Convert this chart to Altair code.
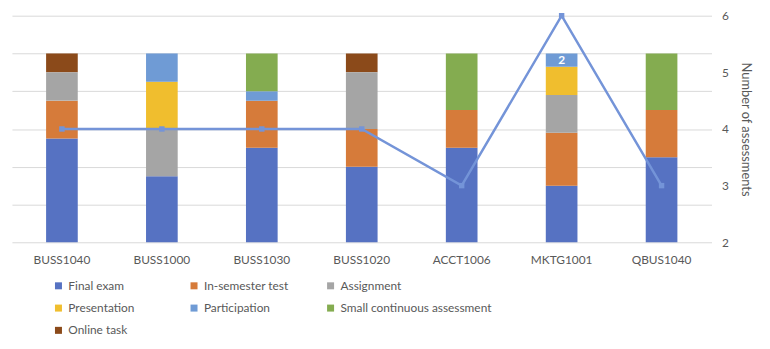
import altair as alt
import pandas as pd

units = ["BUSS1040", "BUSS1000", "BUSS1030", "BUSS1020", "ACCT1006", "MKTG1001", "QBUS1040"]
types = ["Final exam", "In-semester test", "Assignment", "Presentation",
         "Participation", "Small continuous assessment", "Online task"]
type_colors = ["#5672C2", "#D67B3A", "#A5A5A5", "#F0BE2E", "#6F9BD5", "#84AC50", "#8B4A1A"]
# legend columns (as in the reference, filled row by row)
legend_groups = [["Final exam", "Presentation", "Online task"],
                 ["In-semester test", "Participation"],
                 ["Assignment", "Small continuous assessment"]]

final_exam = [55, 35, 50, 40, 50, 30, 45]
in_semester_test = [20, 0, 25, 20, 20, 28, 25]
assignment = [15, 25, 0, 30, 0, 20, 0]
presentation = [0, 25, 0, 0, 0, 15, 0]
participation = [0, 15, 5, 0, 0, 7, 0]
small_continuous = [0, 0, 20, 0, 30, 0, 30]
online_task = [10, 0, 0, 10, 0, 0, 0]
num_assessments = [4, 4, 4, 4, 3, 6, 3]
participation_labels = ["", "", "", "", "", "2", ""]

series = [final_exam, in_semester_test, assignment, presentation,
          participation, small_continuous, online_task]

rows = []
for ui, u in enumerate(units):
    cum = 0
    for ti, t in enumerate(types):
        v = series[ti][ui]
        if v > 0:
            lab = participation_labels[ui] if t == "Participation" else ""
            rows.append({"unit": u, "type": t, "order": ti, "start": cum, "end": cum + v,
                         "mid": cum + v / 2, "label": lab})
            cum += v
df = pd.DataFrame(rows)
line_df = pd.DataFrame({"unit": units, "n": num_assessments})
label_df = df[df["label"] != ""]

color_of = dict(zip(types, type_colors))
legend_x = [41, 178, 316]

xaxis = alt.Axis(labelAngle=0, ticks=False, domain=False, labelPadding=12,
                 labelFontSize=12, labelColor="#595959", grid=False)
xscale = alt.Scale(domain=units, paddingInner=0, paddingOuter=0)

layers = []
for gi, group in enumerate(legend_groups):
    sub = df[df["type"].isin(group)]
    if gi == 0:
        yaxis = alt.Axis(values=[0, 20, 40, 60, 80, 100, 120], labels=False, ticks=False,
                         domain=False, title=None, gridColor="#d9d9d9")
    else:
        yaxis = None
    layers.append(
        alt.Chart(sub).mark_bar(size=32).encode(
            x=alt.X("unit:N", sort=units, title=None, scale=xscale, axis=xaxis),
            y=alt.Y("start:Q", scale=alt.Scale(domain=[0, 120]), axis=yaxis),
            y2="end:Q",
            color=alt.Color("type:N",
                            scale=alt.Scale(domain=group, range=[color_of[t] for t in group]),
                            legend=alt.Legend(orient="none", direction="vertical",
                                              legendX=legend_x[gi], legendY=267,
                                              symbolType="square", title=None,
                                              labelFontSize=12, labelColor="#595959",
                                              symbolSize=50, symbolStrokeWidth=0,
                                              rowPadding=10.5, labelOffset=4)),
        )
    )

text = alt.Chart(label_df).mark_text(color="white", fontWeight="bold", fontSize=12).encode(
    x=alt.X("unit:N", sort=units, title=None, scale=xscale, axis=xaxis),
    y=alt.Y("mid:Q", scale=alt.Scale(domain=[0, 120]), axis=None),
    text="label:N",
)

line = alt.Chart(line_df).mark_line(
    color="#7494D8", strokeWidth=2.5,
    point=alt.OverlayMarkDef(shape="square", size=30, color="#7494D8"),
).encode(
    x=alt.X("unit:N", sort=units, title=None, scale=xscale, axis=xaxis),
    y=alt.Y("n:Q", scale=alt.Scale(domain=[2, 6]),
            axis=alt.Axis(orient="right", values=[2, 3, 4, 5, 6], grid=False, ticks=False,
                          domain=False, title="Number of assessments", labelPadding=10,
                          titlePadding=10, labelFontSize=12, titleFontSize=13,
                          titleFontWeight="normal", labelColor="#595959",
                          titleColor="#595959")),
)

chart = alt.layer(*layers, text, line).resolve_scale(
    y="independent", color="independent"
).properties(
    width=707, height=229,
    padding={"left": 4, "top": 6, "right": 51, "bottom": 98},
    autosize=alt.AutoSizeParams(type="none"),
).configure(font="Lato").configure_view(stroke=None)

chart.save("out.html", embed_options={"renderer": "svg", "actions": False})
